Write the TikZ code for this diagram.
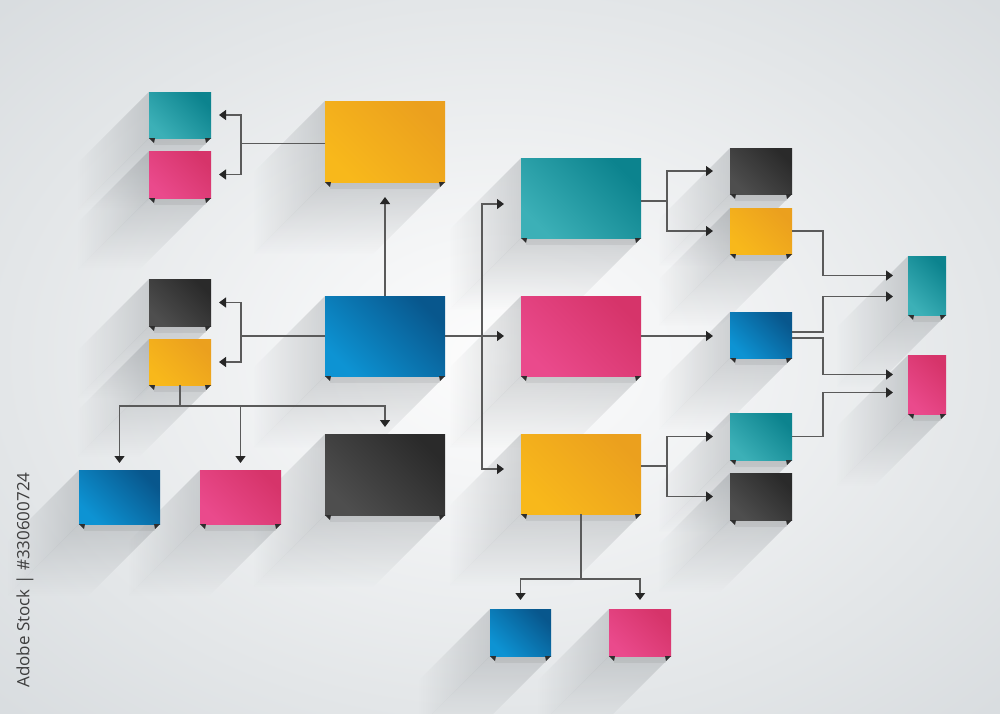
\documentclass[tikz,border=0pt]{standalone}
\usepackage{fontspec}
\newfontfamily\wmfont{Open Sans}
\usetikzlibrary{arrows.meta,fadings}
\definecolor{tealL}{HTML}{3CB0B7}
\definecolor{tealD}{HTML}{0C838E}
\definecolor{pinkL}{HTML}{EA4A8C}
\definecolor{pinkD}{HTML}{D6346A}
\definecolor{blueL}{HTML}{0D93D3}
\definecolor{blueD}{HTML}{08578D}
\definecolor{oranL}{HTML}{F8B81B}
\definecolor{oranD}{HTML}{EBA01E}
\definecolor{blackL}{HTML}{4E4E4E}
\definecolor{blackD}{HTML}{2A2A2A}
\definecolor{lineC}{HTML}{5A5A5A}
\definecolor{arrC}{HTML}{262626}
\definecolor{tabC}{HTML}{2E2E2E}
\definecolor{wmC}{HTML}{3E3E3E}
\definecolor{shC}{HTML}{6A7075}
\definecolor{bgA}{HTML}{FDFDFD}
\definecolor{bgB}{HTML}{F5F6F7}
\definecolor{bgC}{HTML}{E3E6E8}
\definecolor{bgD}{HTML}{D8DCDF}
\pgfdeclareradialshading{bgshade}{\pgfpoint{0bp}{0bp}}{color(0bp)=(bgA); color(8bp)=(bgB); color(25bp)=(bgC); color(36bp)=(bgD); color(50bp)=(bgD)}
\tikzfading[name=shfadeH, left color=transparent!100, right color=transparent!0]
\tikzfading[name=shfadeV, top color=transparent!0, bottom color=transparent!100]
\pgfdeclarelayer{bg}
\pgfdeclarelayer{shadow}
\pgfsetlayers{bg,shadow,main}
\tikzset{
  boxnode/.style={rectangle, inner sep=0pt, outer sep=0pt, draw=none},
  tealbox/.style={top color=tealL, bottom color=tealD, shading angle=135},
  pinkbox/.style={top color=pinkL, bottom color=pinkD, shading angle=135},
  bluebox/.style={top color=blueL, bottom color=blueD, shading angle=135},
  oranbox/.style={top color=oranL, bottom color=oranD, shading angle=135},
  blackbox/.style={top color=blackL, bottom color=blackD, shading angle=135},
  shH/.style={fill=shC, fill opacity=0.26, path fading=shfadeH},
  shV/.style={fill=shC, fill opacity=0.26, path fading=shfadeV},
  conn/.style={draw=lineC, line width=1.3pt},
  arr/.style={conn, -{Triangle[length=7pt,width=10pt,color=arrC]}},
}
\newcommand\mkbox[6]{%
  \begin{pgfonlayer}{shadow}
    \path[shH] (#2,#3) -- (#2,#5) -- ({#2-72},{#5+72}) -- ({#2-72},{#3+72}) -- cycle;
    \path[shV] (#2,#5) -- (#4,#5) -- ({#4-72},{#5+72}) -- ({#2-72},{#5+72}) -- cycle;
    \fill[black,opacity=0.06] ({#2+5},#5) rectangle ({#4-5},{#5+7});
  \end{pgfonlayer}
  \node[boxnode,#6,minimum width={(#4-#2)*1pt},minimum height={(#5-#3)*1pt}] (#1) at ({(#2+#4)/2},{(#3+#5)/2}) {};
  \fill[tabC] (#2,#5) -- ({#2+6},#5) -- ({#2+5},{#5+5}) -- cycle;
  \fill[tabC] (#4,#5) -- ({#4-6},#5) -- ({#4-5},{#5+5}) -- cycle;
}
\begin{document}
\begin{tikzpicture}[x=1pt,y=-1pt]
\useasboundingbox (0,0) rectangle (1000,713);
\begin{pgfonlayer}{bg}
  \shade[shading=bgshade] (0,0) rectangle (1000,713);
\end{pgfonlayer}
% boxes
\mkbox{L1}{149}{92}{211}{138}{tealbox}
\mkbox{L2}{149}{151}{211}{198}{pinkbox}
\mkbox{L3}{149}{279}{211}{326}{blackbox}
\mkbox{L4}{149}{339}{211}{385}{oranbox}
\mkbox{T}{325}{101}{445}{182}{oranbox}
\mkbox{C}{325}{296}{445}{376}{bluebox}
\mkbox{B}{325}{434}{445}{515}{blackbox}
\mkbox{BL1}{79}{470}{160}{524}{bluebox}
\mkbox{BL2}{200}{470}{281}{524}{pinkbox}
\mkbox{M1}{521}{158}{641}{238}{tealbox}
\mkbox{M2}{521}{296}{641}{376}{pinkbox}
\mkbox{M3}{521}{434}{641}{514}{oranbox}
\mkbox{R1}{730}{148}{792}{194}{blackbox}
\mkbox{R2}{730}{208}{792}{254}{oranbox}
\mkbox{R3}{730}{312}{792}{358}{bluebox}
\mkbox{R4}{730}{413}{792}{460}{tealbox}
\mkbox{R5}{730}{473}{792}{520}{blackbox}
\mkbox{F1}{908}{256}{946}{315}{tealbox}
\mkbox{F2}{908}{355}{946}{414}{pinkbox}
\mkbox{D1}{490}{609}{551}{656}{bluebox}
\mkbox{D2}{609}{609}{671}{656}{pinkbox}
% connectors
\draw[arr] (C.north) -- ([yshift=-15pt]T.south);
\draw[conn] ([yshift=-2pt]T.west) -- ++(-84,0) coordinate (j1);
\draw[arr] (j1) |- ([xshift=8pt]L1.east);
\draw[arr] (j1) |- ([xshift=8pt]L2.east);
\draw[conn] (C.west) -- ++(-84,0) coordinate (j2);
\draw[arr] (j2) |- ([xshift=8pt]L3.east);
\draw[arr] (j2) |- ([xshift=8pt]L4.east);
\draw[conn] (L4.south) -- ++(0,21) coordinate (j3);
\draw[arr] (j3) -| ([yshift=7pt]BL1.north);
\draw[arr] (j3) -| ([yshift=7pt]BL2.north);
\draw[arr] (j3) -| ([yshift=7pt]B.north);
\draw[conn] (C.east) -- ++(37,0) coordinate (j4);
\draw[arr] (C.east) -- ([xshift=-17pt]M2.west);
\draw[arr] (j4) |- ([xshift=-17pt,yshift=-6pt]M1.west);
\draw[arr] (j4) |- ([xshift=-17pt,yshift=5pt]M3.west);
\draw[conn] ([yshift=-3pt]M1.east) -- ++(26,0) coordinate (j5);
\draw[arr] (j5) |- ([xshift=-17pt]R1.west);
\draw[arr] (j5) |- ([xshift=-17pt]R2.west);
\coordinate (t3) at ([xshift=-17pt]R3.west);
\draw[arr] (M2.east) -- (M2.east -| t3);
\draw[conn] ([yshift=8pt]M3.east) -- ++(26,0) coordinate (j6);
\draw[arr] (j6) |- ([xshift=-17pt]R4.west);
\draw[arr] (j6) |- ([xshift=-17pt]R5.west);
\draw[conn] (M3.south) -- ++(0,65) coordinate (j7);
\draw[arr] (j7) -| ([yshift=9pt]D1.north);
\draw[arr] (j7) -| ([yshift=9pt]D2.north);
\coordinate (f1a) at ([xshift=-15pt,yshift=10pt]F1.west);
\coordinate (f1b) at ([xshift=-15pt,yshift=-11pt]F1.west);
\coordinate (f2a) at ([xshift=-15pt,yshift=10pt]F2.west);
\coordinate (f2b) at ([xshift=-15pt,yshift=-8pt]F2.west);
\draw[arr] (R2.east) -- ++(31,0) |- (f1a);
\draw[arr] ([yshift=3pt]R3.east) -- ++(31,0) |- (f1b);
\draw[arr] ([yshift=-3pt]R3.east) -- ++(31,0) |- (f2a);
\draw[arr] (R4.east) -- ++(31,0) |- (f2b);
% side label
\node[rotate=90, text=wmC, font=\wmfont\fontsize{17}{19}\selectfont, inner sep=0pt] (wm) at (25,580) {Adobe Stock | \#330600724};
\end{tikzpicture}
\end{document}
